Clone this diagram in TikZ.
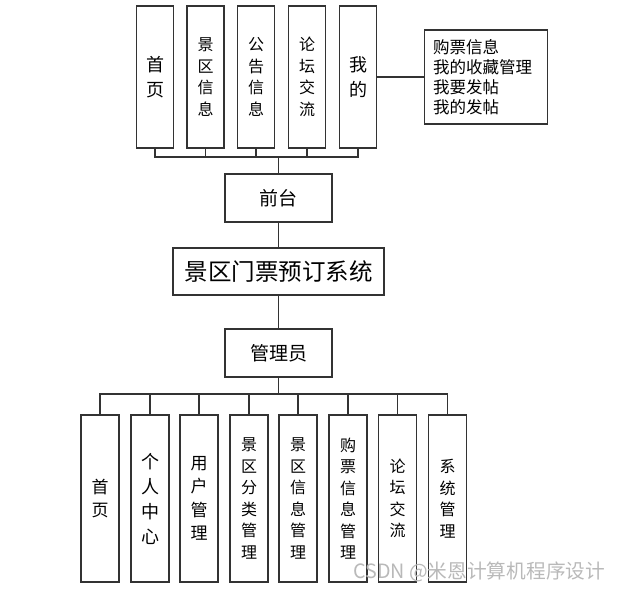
\documentclass[tikz,border=0pt]{standalone}
\usepackage{fontspec}
\newfontfamily\cjk{Noto Sans CJK SC}
\begin{document}
\begin{tikzpicture}[x=1pt,y=-1pt,
  box/.style={draw=black!80, line width=1.1pt, fill=white, inner sep=0pt, align=center, font=\cjk\fontsize{16}{21.5}\selectfont},
  vbox/.style={box, minimum width=37pt, minimum height=142pt},
  bbox/.style={box, minimum width=38pt, minimum height=167pt},
  hbox/.style={box, minimum width=107pt, minimum height=48pt, font=\cjk\fontsize{19}{19}\selectfont},
  wire/.style={draw=black!80, line width=1.1pt}]
\useasboundingbox (0,0) rectangle (620,591);
% top row
\node[vbox, font=\cjk\fontsize{18}{25}\selectfont] (t1) at (155,77) {首\\页};
\node[vbox] (t2) at (205.5,77) {景\\区\\信\\息};
\node[vbox] (t3) at (256,77) {公\\告\\信\\息};
\node[vbox] (t4) at (307,77) {论\\坛\\交\\流};
\node[vbox, font=\cjk\fontsize{18}{25}\selectfont] (t5) at (358,77) {我\\的};
\node[box, minimum width=123pt, minimum height=94pt, text width=106pt, align=left, font=\cjk\fontsize{16.5}{20}\selectfont] (side) at (486,77) {购票信息\\我的收藏管理\\我要发帖\\我的发帖};
% middle
\node[hbox] (qt) at (278.5,198) {前台};
\node[box, minimum width=211pt, minimum height=47pt, font=\cjk\fontsize{23.5}{23.5}\selectfont] (sys) at (278.5,271.5) {景区门票预订系统};
\node[hbox] (adm) at (278.5,353) {管理员};
% bottom row
\node[bbox, font=\cjk\fontsize{17}{23}\selectfont] (b1) at (100,498.5) {首\\页};
\node[bbox, font=\cjk\fontsize{18}{25}\selectfont] (b2) at (150,498.5) {个\\人\\中\\心};
\node[bbox, font=\cjk\fontsize{17}{23.5}\selectfont] (b3) at (199,498.5) {用\\户\\管\\理};
\node[bbox] (b4) at (249,498.5) {景\\区\\分\\类\\管\\理};
\node[bbox] (b5) at (298,498.5) {景\\区\\信\\息\\管\\理};
\node[bbox] (b6) at (348,498.5) {购\\票\\信\\息\\管\\理};
\node[bbox] (b7) at (397.5,498.5) {论\\坛\\交\\流};
\node[bbox] (b8) at (447.5,498.5) {系\\统\\管\\理};
% bus coordinates
\coordinate (busT) at (278.5,157);
\coordinate (busB) at (278.5,394);
% top connectors
\draw[wire] (t1.south) |- (busT) -| (t5.south);
\foreach \n in {t2,t3,t4} \draw[wire] (\n.south) -- (\n.south |- busT);
\draw[wire] (qt.north) -- (busT);
\draw[wire] (t5.east) -- (side.west);
\draw[wire] (qt.south) -- (sys.north);
\draw[wire] (sys.south) -- (adm.north);
% bottom connectors
\draw[wire] (b1.north) |- (busB) -| (b8.north);
\foreach \n in {b2,b3,b4,b5,b6,b7} \draw[wire] (\n.north) -- (\n.north |- busB);
\draw[wire] (adm.south) -- (busB);
% watermark
\node[anchor=west, inner sep=0pt, text=gray!55, font=\cjk\fontsize{19.7}{19.7}\selectfont] (wm) at (353,572) {CSDN @米恩计算机程序设计};
\end{tikzpicture}
\end{document}
